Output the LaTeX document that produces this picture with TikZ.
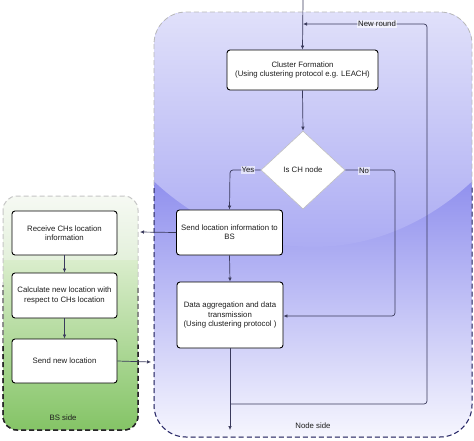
\documentclass[tikz,border=0pt]{standalone}
\usepackage{fontspec}
\setmainfont{Liberation Sans}
\usetikzlibrary{shapes.geometric,arrows.meta,calc}
\definecolor{nsBase}{HTML}{8484EC}
\definecolor{nsMid}{HTML}{A8A8F2}
\definecolor{nsBot}{HTML}{F6F6FE}
\definecolor{hiTop}{HTML}{E0E0FA}
\definecolor{hiBot}{HTML}{ACACF3}
\definecolor{bsTop}{HTML}{F6F9F3}
\definecolor{bsMid}{HTML}{E3F0DB}
\definecolor{bsLow}{HTML}{DAEDCC}
\definecolor{bsBot}{HTML}{84C466}
\definecolor{connc}{HTML}{3A3A5C}
\definecolor{nsEdge}{HTML}{26266A}
\definecolor{txt}{HTML}{1E1E1E}
\tikzset{
  box/.style={draw=black, line width=0.9pt, fill=white, rounded corners=3pt, align=center, text=txt, inner sep=2pt},
  conn/.style={draw=connc, line width=0.7pt, rounded corners=3pt, -{Latex[length=4pt,width=3.6pt]}},
  lab/.style={fill=white, fill opacity=0.6, text opacity=1, inner sep=0.8pt, text=txt},
  dashb/.style={dash pattern=on 5pt off 3pt},
}
\begin{document}
\begin{tikzpicture}[x=1pt,y=-1pt,font=\fontsize{7.8}{9.4}\selectfont]
\useasboundingbox (0,0) rectangle (474,440);
\fill[white] (0,0) rectangle (474,440);
% ---------- Node side container ----------
\begin{scope}
  \clip[rounded corners=32pt] (154,12) rectangle (472,437);
  \fill[nsBase] (154,12) rectangle (472,151);
  \shade[top color=nsBase, middle color=nsMid, bottom color=nsBot] (154,150) rectangle (472,437);
  \begin{scope}
    \clip (313,-73) ellipse [x radius=262, y radius=320];
    \shade[top color=hiTop, bottom color=hiBot] (154,12) rectangle (472,248);
  \end{scope}
\end{scope}
\draw[dashb, draw=gray!55, line width=0.8pt, rounded corners=32pt] (154,12) rectangle (472,437);
\begin{scope}
  \clip (140,185) rectangle (480,445);
  \draw[dashb, draw=nsEdge, line width=1pt, rounded corners=32pt] (154,12) rectangle (472,437);
\end{scope}
% ---------- BS side container ----------
\begin{scope}
  \clip[rounded corners=14pt] (3,196) rectangle (138,430);
  \shade[top color=bsTop, bottom color=bsMid] (3,196) rectangle (138,261);
  \shade[top color=bsLow, bottom color=bsBot] (3,260) rectangle (138,430);
\end{scope}
\draw[dashb, draw=gray!45, line width=1pt, rounded corners=14pt] (3,196) rectangle (138,430);
\begin{scope}
  \clip (0,285) rectangle (150,440);
  \draw[dashb, draw=gray!80!black, line width=1.2pt, rounded corners=14pt] (3,196) rectangle (138,430);
\end{scope}
\begin{scope}
  \clip (0,345) rectangle (150,440);
  \draw[dashb, draw=black!85, line width=1.5pt, rounded corners=14pt] (3,196) rectangle (138,430);
\end{scope}
% ---------- Nodes ----------
\node[box, minimum width=151pt, minimum height=40pt] (cf) at (302.5,70) {Cluster Formation\\(Using clustering protocol e.g. LEACH)};
\node[diamond, draw=gray!50, line width=0.6pt, fill=white, inner sep=0pt, minimum width=84pt, minimum height=78pt, text=txt] (ch) at (303,170) {Is CH node};
\node[box, minimum width=106pt, minimum height=45pt] (send) at (229.5,232.5) {Send location information to\\BS};
\node[box, minimum width=106pt, minimum height=66pt] (data) at (230,315) {Data aggregation and data\\transmission\\(Using clustering protocol )};
\node[box, minimum width=105pt, minimum height=44pt] (recv) at (64.5,233) {Receive CHs location\\information};
\node[box, minimum width=105pt, minimum height=45pt] (calc) at (64.5,295.5) {Calculate new location with\\respect to CHs location};
\node[box, minimum width=105pt, minimum height=44pt] (snew) at (64.5,361) {Send new location};
\node[text=txt] (bsl) at (63,418) {BS side};
\node[text=txt] (nsl) at (313,426) {Node side};
% ---------- Coordinates ----------
\coordinate (start) at (303,0);
\coordinate (yesc) at (230,170);
\coordinate (noc) at (395,170);
\coordinate (noc2) at (395,316);
\coordinate (bsin) at (140,232);
\coordinate (nsin) at (151,362);
\coordinate (loopA) at (230,404);
\coordinate (loopB) at (427,404);
\coordinate (loopC) at (427,24);
\coordinate (loopD) at (303,24);
\coordinate (finish) at (230,430);
% ---------- Connectors ----------
\draw[conn] (start) -- (cf.north);
\draw[conn] (cf.south) -- (ch.north);
\draw[conn] (ch.west) -- (yesc) -- (send.north);
\draw[conn] (ch.east) -- (noc) -- (noc2) -- (data.east |- noc2);
\draw[conn] (send.south) -- (data.north);
\draw[conn] (send.west) -- (bsin);
\draw[conn] (data.south) -- (finish);
\draw[conn] (loopA) -- (loopB) -- (loopC) -- (loopD);
\draw[conn] (recv.south) -- (calc.north);
\draw[conn] (calc.south) -- (snew.north);
\draw[conn] (snew.east) -- (nsin);
% ---------- Labels ----------
\node[lab] (yes) at (248,170) {Yes};
\node[lab] (no) at (364,171) {No};
\node[lab] (nr) at (377,24) {New round};
\end{tikzpicture}
\end{document}
